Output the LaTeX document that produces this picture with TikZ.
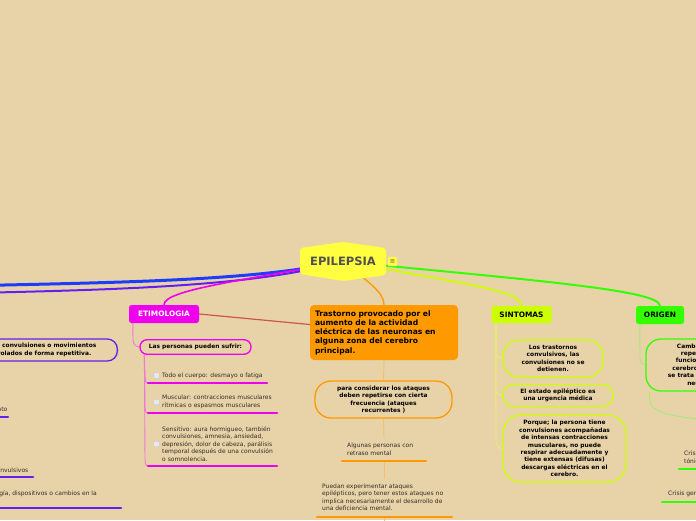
\documentclass[tikz,border=0pt]{standalone}
\usepackage{fontspec}
\setmainfont{DejaVu Sans}
\usetikzlibrary{calc}
\pgfdeclarelayer{back}
\pgfdeclarelayer{links}
\pgfsetlayers{back,links,main}
\definecolor{bgc}{RGB}{232,211,168}
\definecolor{epiy}{RGB}{255,255,64}
\definecolor{epitxt}{RGB}{80,80,80}
\definecolor{bluec}{RGB}{30,60,255}
\definecolor{purplec}{RGB}{100,30,240}
\definecolor{magc}{RGB}{238,0,238}
\definecolor{orangec}{RGB}{255,153,0}
\definecolor{limec}{RGB}{204,255,0}
\definecolor{greenc}{RGB}{51,255,0}
\definecolor{redc}{RGB}{205,85,70}
\definecolor{pinkl}{RGB}{240,120,215}
\definecolor{orangel}{RGB}{248,190,110}
\definecolor{limel}{RGB}{228,238,110}
\definecolor{greenl}{RGB}{165,235,120}
\definecolor{txtc}{RGB}{50,45,40}
\tikzset{
  topic/.style={rounded corners=2.5pt, inner sep=0pt, font=\bfseries\fontsize{7.4}{9}\selectfont},
  pillbox/.style={draw, line width=1.3pt, inner sep=0pt, align=center, text=black, font=\bfseries\fontsize{5.9}{7.4}\selectfont},
  smalltxt/.style={inner sep=0pt, align=left, text=txtc, font=\fontsize{6}{7.5}\selectfont},
  uline/.style={line width=2.6pt, line cap=round},
  chkbox/.style={draw=gray!45, fill=gray!18, rounded corners=0.8pt, minimum size=5.5pt, inner sep=0pt},
  thinc/.style={line width=0.9pt},
}
\begin{document}
\begin{tikzpicture}[x=1pt,y=-1pt]
\begin{pgfonlayer}{back}
\fill[bgc] (0,0) rectangle (696,520);
\end{pgfonlayer}
\useasboundingbox (0,0) rectangle (696,520);

% ---- central topic
\coordinate (ec) at (343,261.5);
\fill[epiy, rounded corners=3pt] (300,248) -- (343,242) -- (386,248) -- (386,275) -- (343,281) -- (300,274) -- cycle;
\node[font=\bfseries\fontsize{11.5}{13}\selectfont, text=epitxt, inner sep=0pt] (epi) at (ec) {EPILEPSIA};
\node[fill=epiy, minimum size=9pt, inner sep=0pt, rounded corners=1pt, text=epitxt, font=\fontsize{6.5}{7}\selectfont] (menu) at (392.5,261.5) {≡};

% ---- off-canvas ends
\coordinate (offL1) at (-10,285.3);
\coordinate (offL2) at (-10,292.6);
\coordinate (offR) at (720,421);
\coordinate (offB) at (384,530);

% ---- ETIMOLOGIA branch
\node[topic, fill=magc, text=white, minimum width=70pt, minimum height=18pt] (etim) at (164,314) {ETIMOLOGIA};
\node[pillbox, draw=magc, rounded corners=7pt, minimum width=111pt, minimum height=14.5pt] (las) at (195.5,347) {Las personas pueden sufrir:};
\node[chkbox] (c1) at (156.5,375.5) {};
\node[smalltxt, anchor=west] (i1) at (162,375.5) {Todo el cuerpo: desmayo o fatiga};
\node[chkbox] (c2) at (156.5,402) {};
\node[smalltxt, anchor=west] (i2) at (162,402) {Muscular: contracciones musculares\\rítmicas o espasmos musculares};
\node[chkbox] (c3) at (156.5,444) {};
\node[smalltxt, anchor=west] (i3) at (162,444) {Sensitivo: aura hormigueo, también\\convulsiones, amnesia, ansiedad,\\depresión, dolor de cabeza, parálisis\\temporal después de una convulsión\\o somnolencia.};
\coordinate (u1) at (148,383);
\coordinate (u2) at (148,413);
\coordinate (u3) at (148,466);
\draw[uline, magc] (u1) -- (267,383);
\draw[uline, magc] (u2) -- (277,413);
\draw[uline, magc] (u3) -- (277,466);

% ---- central definition branch
\node[topic, fill=orangec, text=black, rounded corners=4pt, minimum width=148pt, minimum height=55pt, text width=138pt, inner xsep=5pt, align=left, font=\bfseries\fontsize{7.6}{9.3}\selectfont] (tras) at (384,332.5) {Trastorno provocado por el\\aumento de la actividad\\eléctrica de las neuronas en\\alguna zona del cerebro\\principal.};
\node[pillbox, draw=orangec, rounded corners=16pt, minimum width=137pt, minimum height=37pt] (para) at (383.5,399.5) {para considerar los ataques\\deben repetirse con cierta\\frecuencia (ataques\\recurrentes )};
\node[smalltxt, anchor=west] (alg) at (347,449.5) {Algunas personas con\\retraso mental};
\node[smalltxt, anchor=west] (pued) at (322,497.5) {Puedan experimentar ataques\\epilépticos, pero tener estos ataques no\\implica necesariamente el desarrollo de\\una deficiencia mental.};
\coordinate (algtop) at (384,438);
\coordinate (algbot) at (384,462);
\coordinate (puedtop) at (384,479);
\coordinate (puedbot) at (384,518);
\draw[uline, orangec] (342,461) -- (426,461);
\draw[uline, orangec] (317,517) -- (452,517);

% ---- SINTOMAS branch
\node[topic, fill=limec, text=black, minimum width=60pt, minimum height=17pt] (sint) at (521.5,314.5) {SINTOMAS};
\node[pillbox, draw=limec, rounded corners=16pt, minimum width=100pt, minimum height=37pt] (los) at (553,358.5) {Los trastornos\\convulsivos, las\\convulsiones no se\\detienen.};
\node[pillbox, draw=limec, rounded corners=10pt, minimum width=110pt, minimum height=22pt] (estado) at (558,395.5) {El estado epiléptico es\\una urgencia médica};
\node[pillbox, draw=limec, rounded corners=18pt, minimum width=123pt, minimum height=67pt] (porque) at (564.5,448.5) {Porque; la persona tiene\\convulsiones acompañadas\\de intensas contracciones\\musculares, no puede\\respirar adecuadamente y\\tiene extensas (difusas)\\descargas eléctricas en el\\cerebro.};

% ---- ORIGEN branch
\node[topic, fill=greenc, text=black, minimum width=48pt, minimum height=18pt] (orig) at (660,315) {ORIGEN};
\node[pillbox, draw=greenc, rounded corners=15pt, minimum width=124pt, minimum height=52pt] (camb) at (708,365) {Cambios bruscos y\\repentinos en el\\funcionamiento del\\cerebro; por lo tanto,\\se trata de un trastorno\\neurológico.};
\node[smalltxt, anchor=west] (cr1) at (684,457.5) {Crisis\\tónicas};
\node[smalltxt, anchor=west] (cr2) at (668,494) {Crisis generalizadas};
\draw[uline, greenc] (679,469) -- (712,469);
\draw[uline, greenc] (662,502) -- (712,502);

% ---- left (clipped) branch
\node[pillbox, draw=purplec, rounded corners=10pt, anchor=east, minimum height=22pt, inner xsep=21pt] (lbox) at (118,350) {Presentan convulsiones o movimientos\\descontrolados de forma repetitiva.};
\node[smalltxt, anchor=east] (trat) at (7.5,409) {Tratamiento};
\node[smalltxt, anchor=east] (med) at (28.5,470) {Medicamentos anticonvulsivos};
\node[smalltxt, anchor=north east] (cir) at (97,490) {Opciones: cirugía, dispositivos o cambios en la\\dieta.};
\draw[uline, purplec] (-5,417) -- (8,417);
\draw[uline, purplec] (-5,477) -- (33,477);
\draw[uline, purplec] (-5,508) -- (121,508);

% ---- connectors
\begin{pgfonlayer}{links}
\draw[bluec, line width=3pt] (ec) .. controls (262,279) and (150,282) .. (offL1);
\draw[purplec, line width=2pt] (ec) .. controls (262,284) and (150,289) .. (offL2);
\draw[magc, line width=1.6pt] (ec) .. controls (240,281) and (164,290) .. (etim.north);
\draw[orangec, line width=1.3pt] (ec) .. controls (368,282) and (384,292) .. (tras.north);
\draw[limec, line width=1.8pt] (ec) .. controls (460,283) and (521,290) .. (sint.north);
\draw[greenc, line width=2pt] (ec) .. controls (530,280) and (660,290) .. (orig.north);
\draw[redc, line width=1.2pt] (etim.east) -- ([yshift=8pt]tras.west);
% etimologia subtree
\draw[thinc, pinkl] ([xshift=4pt]etim.south west) -- (133,340) to[out=-90,in=180] (las.west);
\draw[thinc, pinkl] ([xshift=5pt]las.south west) -- (145,377) to[out=-90,in=180] (u1);
\draw[thinc, pinkl] ([xshift=5pt]las.south west) -- (145,407) to[out=-90,in=180] (u2);
\draw[thinc, pinkl] ([xshift=5pt]las.south west) -- (145,460) to[out=-90,in=180] (u3);
% central subtree
\draw[thinc, orangel] (tras.south) -- (para.north);
\draw[thinc, orangel] (para.south) -- (algtop);
\draw[thinc, orangel] (algbot) -- (puedtop);
\draw[thinc, orangel] (puedbot) -- (offB);
% sintomas subtree
\draw[thinc, limel] ([xshift=4.5pt]sint.south west) -- (496,353) to[out=-90,in=180] (los.west);
\draw[thinc, limel] ([xshift=4.5pt]sint.south west) -- (496,390) to[out=-90,in=180] (estado.west);
\draw[thinc, limel] ([xshift=4.5pt]sint.south west) -- (496,442) to[out=-90,in=180] (porque.west);
% origen subtree
\draw[thinc, greenl] ([xshift=4pt]orig.south west) -- (640,358) to[out=-90,in=180] (camb.west);
\draw[thinc, greenl] ([xshift=4pt]camb.south west) -- (650,400) .. controls (650,413) and (672,417) .. (offR);
\end{pgfonlayer}
\end{tikzpicture}
\end{document}
